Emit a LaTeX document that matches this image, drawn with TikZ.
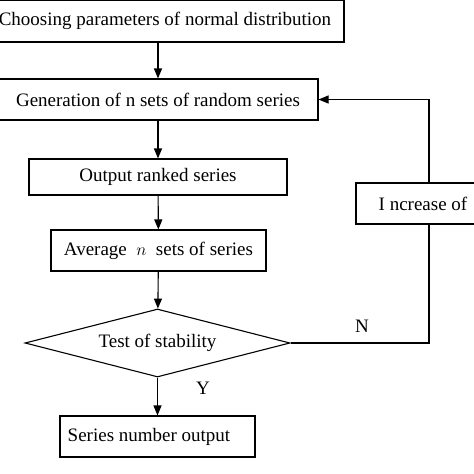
\documentclass[tikz,border=0pt]{standalone}
\usepackage{fontspec}
\setmainfont{Liberation Serif}
\usepackage{tikz}
\usetikzlibrary{arrows.meta}
\usetikzlibrary{shapes.geometric}

\begin{document}
\begin{tikzpicture}[x=1pt,y=-1pt]
	\useasboundingbox (0,0) rectangle (474,474);
	\begin{scope}[every node/.style = {rectangle, draw, line width=1.1pt, inner sep=0pt, font=\fontsize{19}{22}\selectfont}]
		\node[minimum width=372pt, minimum height=42pt] (choose) at (158,21) {\kern14pt Choosing parameters of normal distribution};
		\node[minimum width=320pt, minimum height=41pt] (gen) at (158,99.5) {Generation of n sets of random series};
		\node[minimum width=258pt, minimum height=36pt] (rank) at (158,177) {Output ranked series};
		\node[minimum width=215pt, minimum height=41pt] (avg) at (158.5,250.5) {Average \ $n$ \ sets of series};
		\node[minimum width=195pt, minimum height=41pt] (out) at (157.5,436.5) {Series number output\kern17pt};
		\node[minimum width=146pt, minimum height=41pt] (incr) at (429,203.5) {I ncrease of\kern12pt};
	\end{scope}
	\begin{scope}[every node/.style = {diamond, draw, line width=1.1pt, inner sep=0pt, aspect=3.9, font=\fontsize{19}{22}\selectfont}]
		\node[minimum width=265pt, minimum height=68pt] (test) at (157.5,343) {Test of stability};
	\end{scope}
	\begin{scope}[every node/.style = {font=\fontsize{19}{22}\selectfont}]
		\node (N) at (362,326) {N};
		\node (Y) at (203,388) {Y};
	\end{scope}
	\coordinate (corner) at (429,343);
	\begin{scope}[>={Triangle[length=10pt,width=8pt]},
			every path/.style={draw=black, line width=1.1pt}]
		\path [->] (choose) -- (gen);
		\path [->] (gen) -- (rank);
		\path [->] (rank) -- (avg);
		\path [->] (avg) -- (test);
		\path [->] (test) -- (out);
		\path [-] (test.east) -- (corner) -- (incr);
		\path [->] (incr) |- (gen.east);
	\end{scope}
\end{tikzpicture}
\end{document}
